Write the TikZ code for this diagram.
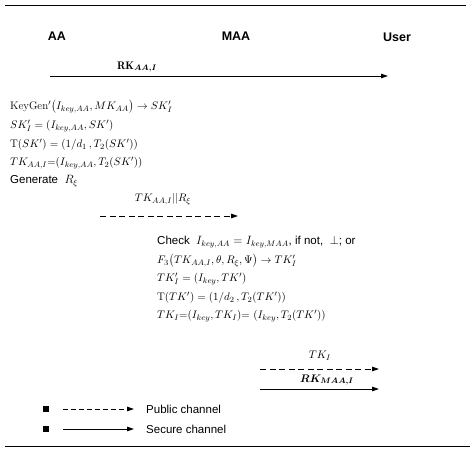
\documentclass[tikz,border=0pt]{standalone}
\usepackage{amsmath,amssymb}
\usepackage{fontspec}
\newfontfamily\arial{Liberation Sans}
\usetikzlibrary{arrows.meta}
\tikzset{
  actor/.style={font=\arial\bfseries\fontsize{12.5}{14}\selectfont, inner sep=0pt},
  txt/.style={anchor=west, inner sep=0pt, font=\fontsize{11}{13}\selectfont},
  sanstxt/.style={anchor=west, inner sep=0pt, font=\arial\fontsize{11.5}{13}\selectfont},
  lbl/.style={inner sep=0pt, font=\fontsize{11}{13}\selectfont},
  secure/.style={line width=0.9pt, -{Triangle[length=7pt,width=4.5pt]}},
  public/.style={line width=0.9pt, dash pattern=on 6pt off 3.5pt, -{Triangle[length=7pt,width=4.5pt]}},
  sq/.style={fill=black, minimum size=6pt, inner sep=0pt},
  rule/.style={line width=0.9pt}
}
\begin{document}
\begin{tikzpicture}[x=1pt,y=-1pt]
\useasboundingbox (0,0) rectangle (474,450);
% frame rules
\coordinate (tl) at (5,5); \coordinate (tr) at (466,5);
\coordinate (bl) at (5,446); \coordinate (br) at (470,446);
\draw[rule] (tl) -- (tr);
\draw[rule] (bl) -- (br);
% actors
\node[actor] (aa) at (57,36) {AA};
\node[actor] (maa) at (236,36) {MAA};
\node[actor] (user) at (397,37) {User};
% first arrow
\coordinate (a1s) at (50,76); \coordinate (a1e) at (388,76);
\draw[secure] (a1s) -- (a1e);
\node[lbl] (l1) at (137,67) {$\mathbf{RK}_{\boldsymbol{AA,I}}$};
% AA block
\node[txt] (t1) at (10,107) {$\mathrm{KeyGen}'\big(I_{key,AA}, MK_{AA}\big) \rightarrow SK_I'$};
\node[txt] (t2) at (10,126) {$SK_I' = (I_{key,AA}, SK')$};
\node[txt] (t3) at (10,145) {$\mathrm{T}(SK') = (1/d_1\,, T_2(SK'))$};
\node[txt] (t4) at (10,163) {$TK_{AA,I}$=$(I_{key,AA}, T_2(SK'))$};
\node[sanstxt] (t5) at (10,181) {Generate\ \ $R_\xi$};
% second arrow
\node[lbl] (l2) at (163,199) {$TK_{AA,I}||R_\xi$};
\coordinate (a2s) at (100,216); \coordinate (a2e) at (238,216);
\draw[public] (a2s) -- (a2e);
% MAA block
\node[sanstxt] (m1) at (157,242) {Check\ \ $I_{key,AA} = I_{key,MAA}$, if not,\ \ $\perp$; or};
\node[txt] (m2) at (157,261) {$F_3\big(TK_{AA,I}, \theta, R_\xi, \Psi\big) \rightarrow TK_I'$};
\node[txt] (m3) at (157,279) {$TK_I' = (I_{key}, TK')$};
\node[txt] (m4) at (157,298) {$\mathrm{T}(TK') = (1/d_2\,, T_2(TK'))$};
\node[txt] (m5) at (157,316) {$TK_I$=$(I_{key}, TK_I)$= $(I_{key}, T_2(TK'))$};
% to user
\node[lbl] (l3) at (320,356) {$TK_I$};
\coordinate (a3s) at (260,369); \coordinate (a3e) at (379,369);
\draw[public] (a3s) -- (a3e);
\node[lbl] (l4) at (327,380) {$\boldsymbol{RK_{MAA,I}}$};
\coordinate (a4s) at (260,389); \coordinate (a4e) at (379,389);
\draw[secure] (a4s) -- (a4e);
% legend
\node[sq] (s1) at (46,409) {};
\coordinate (p1s) at (63,409); \coordinate (p1e) at (134,409);
\draw[public, dash pattern=on 5pt off 3pt] (p1s) -- (p1e);
\node[sanstxt] (pc) at (146,409) {Public channel};
\node[sq] (s2) at (46,429) {};
\coordinate (p2s) at (63,429); \coordinate (p2e) at (134,429);
\draw[secure] (p2s) -- (p2e);
\node[sanstxt] (sc) at (146,429) {Secure channel};
\end{tikzpicture}
\end{document}
